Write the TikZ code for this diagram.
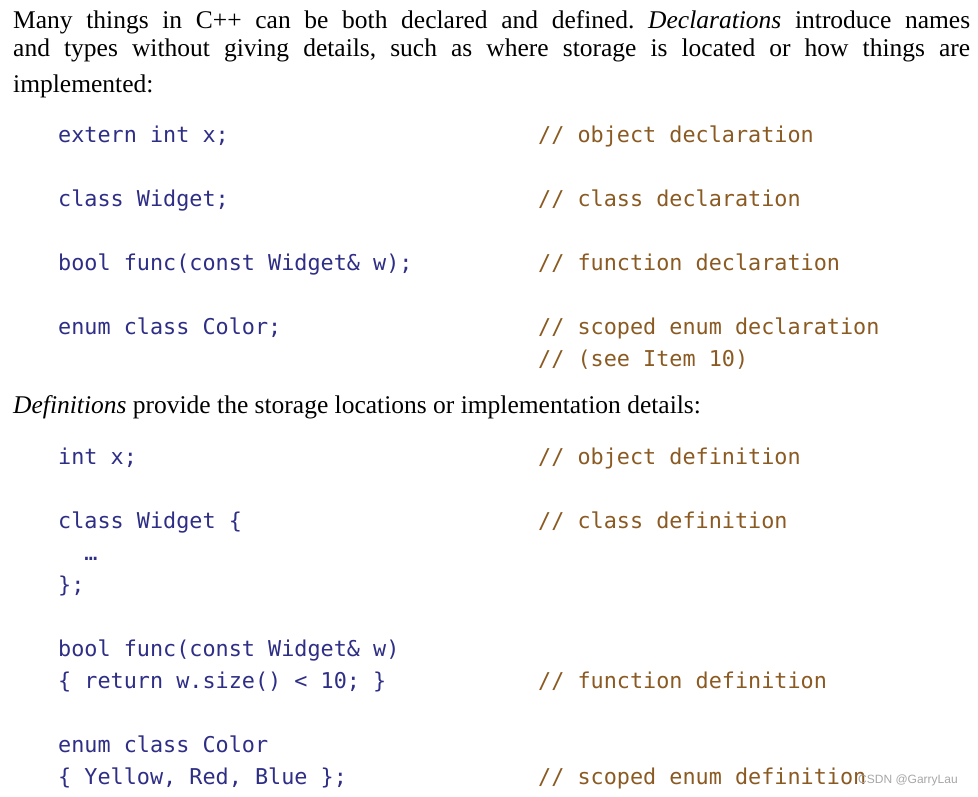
\documentclass[tikz,border=0pt]{standalone}
\usepackage{fontspec}
\setmainfont{Liberation Serif}
\setmonofont{DejaVu Sans Mono}
\newfontfamily\wmfont{Liberation Sans}
\definecolor{codeblue}{HTML}{2E2E86}
\definecolor{cmtbrown}{HTML}{8A5A22}
\frenchspacing
\tikzset{
  para/.style={anchor=base west,inner sep=0,font=\fontsize{25.5}{28}\selectfont},
  code/.style={anchor=base west,inner sep=0,text=codeblue,font=\ttfamily\fontsize{21.8}{26}\selectfont},
  cmt/.style={anchor=base west,inner sep=0,text=cmtbrown,font=\ttfamily\fontsize{21.8}{26}\selectfont},
}
\begin{document}
\begin{tikzpicture}[x=1pt,y=-1pt]
\useasboundingbox (0,0) rectangle (978,796);
\node[para] (p1) at (13,28) {\makebox[957pt][s]{Many things in C++ can be both declared and defined. \textit{Declarations} introduce names}};
\node[para] (p2) at (13,56) {\makebox[957pt][s]{and types without giving details, such as where storage is located or how things are}};
\node[para] (p3) at (13,92) {implemented:};
\node[code] (c1) at (58,142) {extern int x;};
\node[cmt] (m1) at (538,142) {// object declaration};
\node[code] (c2) at (58,206) {class Widget;};
\node[cmt] (m2) at (538,206) {// class declaration};
\node[code] (c3) at (58,270) {bool func(const Widget\& w);};
\node[cmt] (m3) at (538,270) {// function declaration};
\node[code] (c4) at (58,334) {enum class Color;};
\node[cmt] (m4) at (538,334) {// scoped enum declaration};
\node[cmt] (m5) at (538,366) {// (see Item 10)};
\node[para] (p4) at (13,413) {\textit{Definitions} provide the storage locations or implementation details:};
\node[code] (d1) at (58,464) {int x;};
\node[cmt] (n1) at (538,464) {// object definition};
\node[code] (d2) at (58,528) {class Widget \{};
\node[cmt] (n2) at (538,528) {// class definition};
\node[code] (d3) at (58,560) {\ \ …};
\node[code] (d4) at (58,592) {\};};
\node[code] (d5) at (58,656) {bool func(const Widget\& w)};
\node[code] (d6) at (58,688) {\{ return w.size() < 10; \}};
\node[cmt] (n3) at (538,688) {// function definition};
\node[code] (d7) at (58,752) {enum class Color};
\node[code] (d8) at (58,784) {\{ Yellow, Red, Blue \};};
\node[cmt] (n4) at (538,784) {// scoped enum definition};
\node[anchor=base west,inner sep=0,text=gray!70,font=\wmfont\fontsize{12}{14}\selectfont] (wm) at (858,783) {CSDN @GarryLau};
\end{tikzpicture}
\end{document}
